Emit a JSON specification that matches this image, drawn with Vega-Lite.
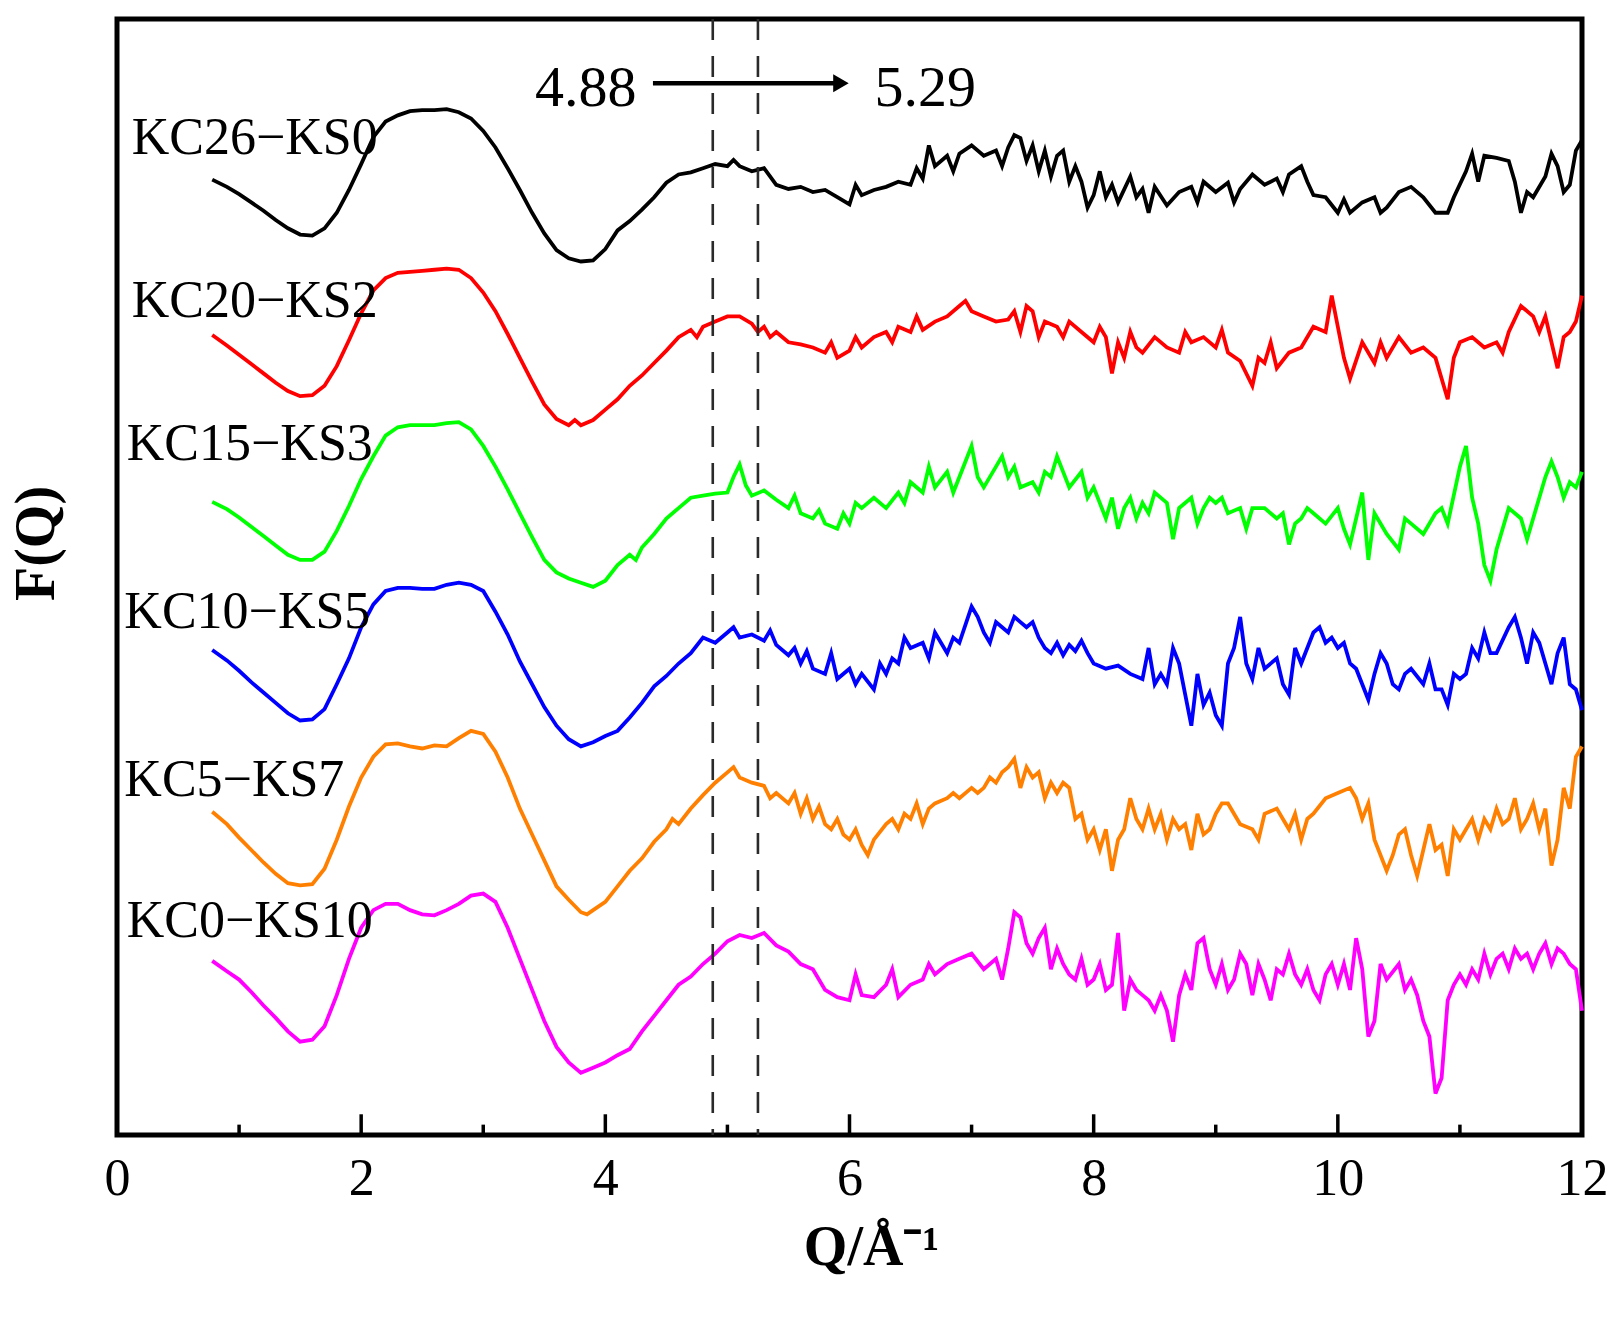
{
"$schema":"https://vega.github.io/schema/vega-lite/v6.json",
"width":1465,"height":1116,
"autosize":{"type":"none"},
"padding":{"left":117,"top":19,"right":41,"bottom":188},
"background":"white",
"config":{"view":{"stroke":"black","strokeWidth":5},"font":"Liberation Serif"},
"datasets":{
"curves":[
{"s":"KC26−KS0","q":0.78,"f":9.27},{"s":"KC26−KS0","q":0.9,"f":9.20},{"s":"KC26−KS0","q":1.0,"f":9.13},{"s":"KC26−KS0","q":1.1,"f":9.05},{"s":"KC26−KS0","q":1.2,"f":8.97},{"s":"KC26−KS0","q":1.3,"f":8.88},{"s":"KC26−KS0","q":1.4,"f":8.80},{"s":"KC26−KS0","q":1.5,"f":8.74},{"s":"KC26−KS0","q":1.6,"f":8.73},{"s":"KC26−KS0","q":1.7,"f":8.80},{"s":"KC26−KS0","q":1.8,"f":8.95},{"s":"KC26−KS0","q":1.9,"f":9.17},{"s":"KC26−KS0","q":2.0,"f":9.42},{"s":"KC26−KS0","q":2.1,"f":9.68},{"s":"KC26−KS0","q":2.2,"f":9.83},{"s":"KC26−KS0","q":2.3,"f":9.89},{"s":"KC26−KS0","q":2.4,"f":9.93},{"s":"KC26−KS0","q":2.5,"f":9.94},{"s":"KC26−KS0","q":2.6,"f":9.94},{"s":"KC26−KS0","q":2.7,"f":9.95},{"s":"KC26−KS0","q":2.8,"f":9.92},{"s":"KC26−KS0","q":2.9,"f":9.86},{"s":"KC26−KS0","q":3.0,"f":9.74},{"s":"KC26−KS0","q":3.1,"f":9.58},{"s":"KC26−KS0","q":3.2,"f":9.38},{"s":"KC26−KS0","q":3.3,"f":9.17},{"s":"KC26−KS0","q":3.4,"f":8.95},{"s":"KC26−KS0","q":3.5,"f":8.75},{"s":"KC26−KS0","q":3.6,"f":8.59},{"s":"KC26−KS0","q":3.7,"f":8.51},{"s":"KC26−KS0","q":3.8,"f":8.48},{"s":"KC26−KS0","q":3.9,"f":8.49},{"s":"KC26−KS0","q":4.0,"f":8.60},{"s":"KC26−KS0","q":4.1,"f":8.78},{"s":"KC26−KS0","q":4.2,"f":8.87},{"s":"KC26−KS0","q":4.3,"f":8.98},{"s":"KC26−KS0","q":4.4,"f":9.10},{"s":"KC26−KS0","q":4.5,"f":9.24},{"s":"KC26−KS0","q":4.6,"f":9.32},{"s":"KC26−KS0","q":4.7,"f":9.34},{"s":"KC26−KS0","q":4.8,"f":9.38},{"s":"KC26−KS0","q":4.9,"f":9.42},{"s":"KC26−KS0","q":5.0,"f":9.40},{"s":"KC26−KS0","q":5.05,"f":9.46},{"s":"KC26−KS0","q":5.1,"f":9.40},{"s":"KC26−KS0","q":5.2,"f":9.35},{"s":"KC26−KS0","q":5.3,"f":9.38},{"s":"KC26−KS0","q":5.4,"f":9.22},{"s":"KC26−KS0","q":5.5,"f":9.18},{"s":"KC26−KS0","q":5.6,"f":9.20},{"s":"KC26−KS0","q":5.7,"f":9.15},{"s":"KC26−KS0","q":5.8,"f":9.17},{"s":"KC26−KS0","q":5.9,"f":9.10},{"s":"KC26−KS0","q":6.0,"f":9.03},{"s":"KC26−KS0","q":6.05,"f":9.22},{"s":"KC26−KS0","q":6.1,"f":9.12},{"s":"KC26−KS0","q":6.2,"f":9.17},{"s":"KC26−KS0","q":6.3,"f":9.20},{"s":"KC26−KS0","q":6.4,"f":9.25},{"s":"KC26−KS0","q":6.5,"f":9.22},{"s":"KC26−KS0","q":6.55,"f":9.38},{"s":"KC26−KS0","q":6.6,"f":9.28},{"s":"KC26−KS0","q":6.65,"f":9.60},{"s":"KC26−KS0","q":6.7,"f":9.40},{"s":"KC26−KS0","q":6.8,"f":9.50},{"s":"KC26−KS0","q":6.85,"f":9.35},{"s":"KC26−KS0","q":6.9,"f":9.52},{"s":"KC26−KS0","q":7.0,"f":9.60},{"s":"KC26−KS0","q":7.1,"f":9.50},{"s":"KC26−KS0","q":7.2,"f":9.55},{"s":"KC26−KS0","q":7.25,"f":9.40},{"s":"KC26−KS0","q":7.3,"f":9.58},{"s":"KC26−KS0","q":7.35,"f":9.70},{"s":"KC26−KS0","q":7.4,"f":9.67},{"s":"KC26−KS0","q":7.45,"f":9.45},{"s":"KC26−KS0","q":7.5,"f":9.60},{"s":"KC26−KS0","q":7.55,"f":9.35},{"s":"KC26−KS0","q":7.6,"f":9.55},{"s":"KC26−KS0","q":7.65,"f":9.30},{"s":"KC26−KS0","q":7.7,"f":9.50},{"s":"KC26−KS0","q":7.75,"f":9.55},{"s":"KC26−KS0","q":7.8,"f":9.25},{"s":"KC26−KS0","q":7.85,"f":9.40},{"s":"KC26−KS0","q":7.9,"f":9.25},{"s":"KC26−KS0","q":7.95,"f":9.00},{"s":"KC26−KS0","q":8.0,"f":9.12},{"s":"KC26−KS0","q":8.05,"f":9.35},{"s":"KC26−KS0","q":8.1,"f":9.10},{"s":"KC26−KS0","q":8.15,"f":9.22},{"s":"KC26−KS0","q":8.2,"f":9.05},{"s":"KC26−KS0","q":8.3,"f":9.30},{"s":"KC26−KS0","q":8.35,"f":9.10},{"s":"KC26−KS0","q":8.4,"f":9.18},{"s":"KC26−KS0","q":8.45,"f":8.95},{"s":"KC26−KS0","q":8.5,"f":9.20},{"s":"KC26−KS0","q":8.6,"f":9.02},{"s":"KC26−KS0","q":8.7,"f":9.15},{"s":"KC26−KS0","q":8.8,"f":9.20},{"s":"KC26−KS0","q":8.85,"f":9.05},{"s":"KC26−KS0","q":8.9,"f":9.25},{"s":"KC26−KS0","q":9.0,"f":9.15},{"s":"KC26−KS0","q":9.1,"f":9.24},{"s":"KC26−KS0","q":9.15,"f":9.05},{"s":"KC26−KS0","q":9.2,"f":9.18},{"s":"KC26−KS0","q":9.3,"f":9.32},{"s":"KC26−KS0","q":9.4,"f":9.22},{"s":"KC26−KS0","q":9.5,"f":9.28},{"s":"KC26−KS0","q":9.55,"f":9.15},{"s":"KC26−KS0","q":9.6,"f":9.32},{"s":"KC26−KS0","q":9.7,"f":9.40},{"s":"KC26−KS0","q":9.75,"f":9.25},{"s":"KC26−KS0","q":9.8,"f":9.12},{"s":"KC26−KS0","q":9.9,"f":9.10},{"s":"KC26−KS0","q":10.0,"f":8.95},{"s":"KC26−KS0","q":10.05,"f":9.08},{"s":"KC26−KS0","q":10.1,"f":8.95},{"s":"KC26−KS0","q":10.2,"f":9.05},{"s":"KC26−KS0","q":10.3,"f":9.10},{"s":"KC26−KS0","q":10.35,"f":8.95},{"s":"KC26−KS0","q":10.4,"f":9.00},{"s":"KC26−KS0","q":10.5,"f":9.15},{"s":"KC26−KS0","q":10.6,"f":9.20},{"s":"KC26−KS0","q":10.7,"f":9.10},{"s":"KC26−KS0","q":10.8,"f":8.95},{"s":"KC26−KS0","q":10.9,"f":8.95},{"s":"KC26−KS0","q":10.95,"f":9.10},{"s":"KC26−KS0","q":11.05,"f":9.35},{"s":"KC26−KS0","q":11.1,"f":9.52},{"s":"KC26−KS0","q":11.15,"f":9.25},{"s":"KC26−KS0","q":11.2,"f":9.50},{"s":"KC26−KS0","q":11.3,"f":9.48},{"s":"KC26−KS0","q":11.4,"f":9.45},{"s":"KC26−KS0","q":11.45,"f":9.25},{"s":"KC26−KS0","q":11.5,"f":8.95},{"s":"KC26−KS0","q":11.55,"f":9.15},{"s":"KC26−KS0","q":11.6,"f":9.10},{"s":"KC26−KS0","q":11.7,"f":9.30},{"s":"KC26−KS0","q":11.75,"f":9.52},{"s":"KC26−KS0","q":11.8,"f":9.40},{"s":"KC26−KS0","q":11.85,"f":9.15},{"s":"KC26−KS0","q":11.9,"f":9.22},{"s":"KC26−KS0","q":11.95,"f":9.55},{"s":"KC26−KS0","q":12.0,"f":9.65},
{"s":"KC20−KS2","q":0.78,"f":7.77},{"s":"KC20−KS2","q":0.9,"f":7.67},{"s":"KC20−KS2","q":1.0,"f":7.58},{"s":"KC20−KS2","q":1.1,"f":7.49},{"s":"KC20−KS2","q":1.2,"f":7.40},{"s":"KC20−KS2","q":1.3,"f":7.31},{"s":"KC20−KS2","q":1.4,"f":7.23},{"s":"KC20−KS2","q":1.5,"f":7.18},{"s":"KC20−KS2","q":1.6,"f":7.19},{"s":"KC20−KS2","q":1.7,"f":7.28},{"s":"KC20−KS2","q":1.8,"f":7.47},{"s":"KC20−KS2","q":1.9,"f":7.72},{"s":"KC20−KS2","q":2.0,"f":7.98},{"s":"KC20−KS2","q":2.1,"f":8.20},{"s":"KC20−KS2","q":2.2,"f":8.32},{"s":"KC20−KS2","q":2.3,"f":8.37},{"s":"KC20−KS2","q":2.4,"f":8.38},{"s":"KC20−KS2","q":2.5,"f":8.39},{"s":"KC20−KS2","q":2.6,"f":8.40},{"s":"KC20−KS2","q":2.7,"f":8.41},{"s":"KC20−KS2","q":2.8,"f":8.40},{"s":"KC20−KS2","q":2.9,"f":8.32},{"s":"KC20−KS2","q":3.0,"f":8.18},{"s":"KC20−KS2","q":3.1,"f":8.00},{"s":"KC20−KS2","q":3.2,"f":7.78},{"s":"KC20−KS2","q":3.3,"f":7.55},{"s":"KC20−KS2","q":3.4,"f":7.32},{"s":"KC20−KS2","q":3.5,"f":7.10},{"s":"KC20−KS2","q":3.6,"f":6.96},{"s":"KC20−KS2","q":3.7,"f":6.90},{"s":"KC20−KS2","q":3.75,"f":6.95},{"s":"KC20−KS2","q":3.8,"f":6.90},{"s":"KC20−KS2","q":3.9,"f":6.95},{"s":"KC20−KS2","q":4.0,"f":7.05},{"s":"KC20−KS2","q":4.1,"f":7.15},{"s":"KC20−KS2","q":4.2,"f":7.28},{"s":"KC20−KS2","q":4.3,"f":7.38},{"s":"KC20−KS2","q":4.4,"f":7.50},{"s":"KC20−KS2","q":4.5,"f":7.62},{"s":"KC20−KS2","q":4.6,"f":7.75},{"s":"KC20−KS2","q":4.7,"f":7.82},{"s":"KC20−KS2","q":4.75,"f":7.75},{"s":"KC20−KS2","q":4.8,"f":7.85},{"s":"KC20−KS2","q":4.9,"f":7.90},{"s":"KC20−KS2","q":5.0,"f":7.95},{"s":"KC20−KS2","q":5.1,"f":7.95},{"s":"KC20−KS2","q":5.2,"f":7.88},{"s":"KC20−KS2","q":5.25,"f":7.80},{"s":"KC20−KS2","q":5.3,"f":7.85},{"s":"KC20−KS2","q":5.35,"f":7.75},{"s":"KC20−KS2","q":5.4,"f":7.80},{"s":"KC20−KS2","q":5.5,"f":7.70},{"s":"KC20−KS2","q":5.6,"f":7.68},{"s":"KC20−KS2","q":5.7,"f":7.65},{"s":"KC20−KS2","q":5.8,"f":7.60},{"s":"KC20−KS2","q":5.85,"f":7.70},{"s":"KC20−KS2","q":5.9,"f":7.55},{"s":"KC20−KS2","q":6.0,"f":7.62},{"s":"KC20−KS2","q":6.05,"f":7.75},{"s":"KC20−KS2","q":6.1,"f":7.65},{"s":"KC20−KS2","q":6.2,"f":7.75},{"s":"KC20−KS2","q":6.3,"f":7.80},{"s":"KC20−KS2","q":6.35,"f":7.70},{"s":"KC20−KS2","q":6.4,"f":7.85},{"s":"KC20−KS2","q":6.5,"f":7.80},{"s":"KC20−KS2","q":6.55,"f":7.95},{"s":"KC20−KS2","q":6.6,"f":7.82},{"s":"KC20−KS2","q":6.7,"f":7.90},{"s":"KC20−KS2","q":6.8,"f":7.95},{"s":"KC20−KS2","q":6.9,"f":8.05},{"s":"KC20−KS2","q":6.95,"f":8.10},{"s":"KC20−KS2","q":7.0,"f":8.00},{"s":"KC20−KS2","q":7.1,"f":7.95},{"s":"KC20−KS2","q":7.2,"f":7.90},{"s":"KC20−KS2","q":7.3,"f":7.92},{"s":"KC20−KS2","q":7.35,"f":8.00},{"s":"KC20−KS2","q":7.4,"f":7.80},{"s":"KC20−KS2","q":7.45,"f":8.05},{"s":"KC20−KS2","q":7.5,"f":8.00},{"s":"KC20−KS2","q":7.55,"f":7.75},{"s":"KC20−KS2","q":7.6,"f":7.90},{"s":"KC20−KS2","q":7.7,"f":7.85},{"s":"KC20−KS2","q":7.75,"f":7.75},{"s":"KC20−KS2","q":7.8,"f":7.90},{"s":"KC20−KS2","q":7.9,"f":7.80},{"s":"KC20−KS2","q":8.0,"f":7.70},{"s":"KC20−KS2","q":8.05,"f":7.85},{"s":"KC20−KS2","q":8.1,"f":7.75},{"s":"KC20−KS2","q":8.15,"f":7.40},{"s":"KC20−KS2","q":8.2,"f":7.70},{"s":"KC20−KS2","q":8.25,"f":7.55},{"s":"KC20−KS2","q":8.3,"f":7.80},{"s":"KC20−KS2","q":8.35,"f":7.65},{"s":"KC20−KS2","q":8.4,"f":7.60},{"s":"KC20−KS2","q":8.5,"f":7.75},{"s":"KC20−KS2","q":8.6,"f":7.65},{"s":"KC20−KS2","q":8.7,"f":7.60},{"s":"KC20−KS2","q":8.75,"f":7.80},{"s":"KC20−KS2","q":8.8,"f":7.70},{"s":"KC20−KS2","q":8.9,"f":7.75},{"s":"KC20−KS2","q":9.0,"f":7.65},{"s":"KC20−KS2","q":9.05,"f":7.82},{"s":"KC20−KS2","q":9.1,"f":7.60},{"s":"KC20−KS2","q":9.2,"f":7.52},{"s":"KC20−KS2","q":9.3,"f":7.28},{"s":"KC20−KS2","q":9.35,"f":7.55},{"s":"KC20−KS2","q":9.4,"f":7.50},{"s":"KC20−KS2","q":9.45,"f":7.70},{"s":"KC20−KS2","q":9.5,"f":7.45},{"s":"KC20−KS2","q":9.6,"f":7.60},{"s":"KC20−KS2","q":9.7,"f":7.65},{"s":"KC20−KS2","q":9.8,"f":7.85},{"s":"KC20−KS2","q":9.9,"f":7.80},{"s":"KC20−KS2","q":9.95,"f":8.15},{"s":"KC20−KS2","q":10.0,"f":7.85},{"s":"KC20−KS2","q":10.05,"f":7.55},{"s":"KC20−KS2","q":10.1,"f":7.35},{"s":"KC20−KS2","q":10.2,"f":7.70},{"s":"KC20−KS2","q":10.3,"f":7.50},{"s":"KC20−KS2","q":10.35,"f":7.70},{"s":"KC20−KS2","q":10.4,"f":7.55},{"s":"KC20−KS2","q":10.5,"f":7.75},{"s":"KC20−KS2","q":10.6,"f":7.60},{"s":"KC20−KS2","q":10.7,"f":7.65},{"s":"KC20−KS2","q":10.8,"f":7.55},{"s":"KC20−KS2","q":10.9,"f":7.15},{"s":"KC20−KS2","q":10.95,"f":7.55},{"s":"KC20−KS2","q":11.0,"f":7.70},{"s":"KC20−KS2","q":11.1,"f":7.75},{"s":"KC20−KS2","q":11.2,"f":7.65},{"s":"KC20−KS2","q":11.3,"f":7.70},{"s":"KC20−KS2","q":11.35,"f":7.60},{"s":"KC20−KS2","q":11.4,"f":7.80},{"s":"KC20−KS2","q":11.5,"f":8.05},{"s":"KC20−KS2","q":11.6,"f":7.95},{"s":"KC20−KS2","q":11.65,"f":7.80},{"s":"KC20−KS2","q":11.7,"f":7.95},{"s":"KC20−KS2","q":11.75,"f":7.70},{"s":"KC20−KS2","q":11.8,"f":7.45},{"s":"KC20−KS2","q":11.85,"f":7.75},{"s":"KC20−KS2","q":11.9,"f":7.80},{"s":"KC20−KS2","q":11.95,"f":7.90},{"s":"KC20−KS2","q":12.0,"f":8.15},
{"s":"KC15−KS3","q":0.78,"f":6.16},{"s":"KC15−KS3","q":0.9,"f":6.09},{"s":"KC15−KS3","q":1.0,"f":6.01},{"s":"KC15−KS3","q":1.1,"f":5.92},{"s":"KC15−KS3","q":1.2,"f":5.83},{"s":"KC15−KS3","q":1.3,"f":5.74},{"s":"KC15−KS3","q":1.4,"f":5.65},{"s":"KC15−KS3","q":1.5,"f":5.60},{"s":"KC15−KS3","q":1.6,"f":5.60},{"s":"KC15−KS3","q":1.7,"f":5.68},{"s":"KC15−KS3","q":1.8,"f":5.88},{"s":"KC15−KS3","q":1.9,"f":6.12},{"s":"KC15−KS3","q":2.0,"f":6.38},{"s":"KC15−KS3","q":2.1,"f":6.60},{"s":"KC15−KS3","q":2.2,"f":6.80},{"s":"KC15−KS3","q":2.3,"f":6.88},{"s":"KC15−KS3","q":2.4,"f":6.90},{"s":"KC15−KS3","q":2.5,"f":6.90},{"s":"KC15−KS3","q":2.6,"f":6.90},{"s":"KC15−KS3","q":2.7,"f":6.92},{"s":"KC15−KS3","q":2.8,"f":6.93},{"s":"KC15−KS3","q":2.9,"f":6.86},{"s":"KC15−KS3","q":3.0,"f":6.70},{"s":"KC15−KS3","q":3.1,"f":6.50},{"s":"KC15−KS3","q":3.2,"f":6.28},{"s":"KC15−KS3","q":3.3,"f":6.05},{"s":"KC15−KS3","q":3.4,"f":5.82},{"s":"KC15−KS3","q":3.5,"f":5.60},{"s":"KC15−KS3","q":3.6,"f":5.48},{"s":"KC15−KS3","q":3.7,"f":5.42},{"s":"KC15−KS3","q":3.8,"f":5.38},{"s":"KC15−KS3","q":3.9,"f":5.34},{"s":"KC15−KS3","q":4.0,"f":5.40},{"s":"KC15−KS3","q":4.1,"f":5.55},{"s":"KC15−KS3","q":4.2,"f":5.65},{"s":"KC15−KS3","q":4.25,"f":5.60},{"s":"KC15−KS3","q":4.3,"f":5.72},{"s":"KC15−KS3","q":4.4,"f":5.85},{"s":"KC15−KS3","q":4.5,"f":6.00},{"s":"KC15−KS3","q":4.6,"f":6.10},{"s":"KC15−KS3","q":4.7,"f":6.20},{"s":"KC15−KS3","q":4.8,"f":6.22},{"s":"KC15−KS3","q":4.9,"f":6.24},{"s":"KC15−KS3","q":5.0,"f":6.25},{"s":"KC15−KS3","q":5.05,"f":6.40},{"s":"KC15−KS3","q":5.1,"f":6.52},{"s":"KC15−KS3","q":5.15,"f":6.32},{"s":"KC15−KS3","q":5.2,"f":6.22},{"s":"KC15−KS3","q":5.3,"f":6.27},{"s":"KC15−KS3","q":5.4,"f":6.18},{"s":"KC15−KS3","q":5.5,"f":6.10},{"s":"KC15−KS3","q":5.55,"f":6.22},{"s":"KC15−KS3","q":5.6,"f":6.05},{"s":"KC15−KS3","q":5.7,"f":6.00},{"s":"KC15−KS3","q":5.75,"f":6.08},{"s":"KC15−KS3","q":5.8,"f":5.95},{"s":"KC15−KS3","q":5.9,"f":5.90},{"s":"KC15−KS3","q":5.95,"f":6.05},{"s":"KC15−KS3","q":6.0,"f":5.95},{"s":"KC15−KS3","q":6.05,"f":6.15},{"s":"KC15−KS3","q":6.1,"f":6.10},{"s":"KC15−KS3","q":6.2,"f":6.20},{"s":"KC15−KS3","q":6.3,"f":6.10},{"s":"KC15−KS3","q":6.4,"f":6.25},{"s":"KC15−KS3","q":6.45,"f":6.15},{"s":"KC15−KS3","q":6.5,"f":6.35},{"s":"KC15−KS3","q":6.6,"f":6.25},{"s":"KC15−KS3","q":6.65,"f":6.50},{"s":"KC15−KS3","q":6.7,"f":6.30},{"s":"KC15−KS3","q":6.8,"f":6.45},{"s":"KC15−KS3","q":6.85,"f":6.25},{"s":"KC15−KS3","q":6.95,"f":6.55},{"s":"KC15−KS3","q":7.0,"f":6.70},{"s":"KC15−KS3","q":7.05,"f":6.40},{"s":"KC15−KS3","q":7.1,"f":6.30},{"s":"KC15−KS3","q":7.2,"f":6.50},{"s":"KC15−KS3","q":7.25,"f":6.60},{"s":"KC15−KS3","q":7.3,"f":6.40},{"s":"KC15−KS3","q":7.35,"f":6.50},{"s":"KC15−KS3","q":7.4,"f":6.30},{"s":"KC15−KS3","q":7.5,"f":6.35},{"s":"KC15−KS3","q":7.55,"f":6.25},{"s":"KC15−KS3","q":7.6,"f":6.45},{"s":"KC15−KS3","q":7.65,"f":6.40},{"s":"KC15−KS3","q":7.7,"f":6.60},{"s":"KC15−KS3","q":7.75,"f":6.45},{"s":"KC15−KS3","q":7.8,"f":6.30},{"s":"KC15−KS3","q":7.9,"f":6.45},{"s":"KC15−KS3","q":7.95,"f":6.20},{"s":"KC15−KS3","q":8.0,"f":6.30},{"s":"KC15−KS3","q":8.05,"f":6.15},{"s":"KC15−KS3","q":8.1,"f":6.00},{"s":"KC15−KS3","q":8.15,"f":6.20},{"s":"KC15−KS3","q":8.2,"f":5.90},{"s":"KC15−KS3","q":8.25,"f":6.10},{"s":"KC15−KS3","q":8.3,"f":6.20},{"s":"KC15−KS3","q":8.35,"f":6.00},{"s":"KC15−KS3","q":8.4,"f":6.15},{"s":"KC15−KS3","q":8.45,"f":6.05},{"s":"KC15−KS3","q":8.5,"f":6.25},{"s":"KC15−KS3","q":8.6,"f":6.15},{"s":"KC15−KS3","q":8.65,"f":5.80},{"s":"KC15−KS3","q":8.7,"f":6.10},{"s":"KC15−KS3","q":8.8,"f":6.20},{"s":"KC15−KS3","q":8.85,"f":5.95},{"s":"KC15−KS3","q":8.9,"f":6.10},{"s":"KC15−KS3","q":8.95,"f":6.20},{"s":"KC15−KS3","q":9.0,"f":6.15},{"s":"KC15−KS3","q":9.05,"f":6.20},{"s":"KC15−KS3","q":9.1,"f":6.05},{"s":"KC15−KS3","q":9.2,"f":6.10},{"s":"KC15−KS3","q":9.25,"f":5.90},{"s":"KC15−KS3","q":9.3,"f":6.10},{"s":"KC15−KS3","q":9.4,"f":6.10},{"s":"KC15−KS3","q":9.5,"f":6.00},{"s":"KC15−KS3","q":9.55,"f":6.05},{"s":"KC15−KS3","q":9.6,"f":5.75},{"s":"KC15−KS3","q":9.65,"f":5.95},{"s":"KC15−KS3","q":9.7,"f":6.00},{"s":"KC15−KS3","q":9.75,"f":6.10},{"s":"KC15−KS3","q":9.8,"f":6.05},{"s":"KC15−KS3","q":9.9,"f":5.95},{"s":"KC15−KS3","q":10.0,"f":6.10},{"s":"KC15−KS3","q":10.05,"f":5.90},{"s":"KC15−KS3","q":10.1,"f":5.75},{"s":"KC15−KS3","q":10.15,"f":6.00},{"s":"KC15−KS3","q":10.2,"f":6.25},{"s":"KC15−KS3","q":10.25,"f":5.60},{"s":"KC15−KS3","q":10.3,"f":6.05},{"s":"KC15−KS3","q":10.4,"f":5.85},{"s":"KC15−KS3","q":10.5,"f":5.70},{"s":"KC15−KS3","q":10.55,"f":6.00},{"s":"KC15−KS3","q":10.6,"f":5.95},{"s":"KC15−KS3","q":10.7,"f":5.85},{"s":"KC15−KS3","q":10.8,"f":6.05},{"s":"KC15−KS3","q":10.85,"f":6.10},{"s":"KC15−KS3","q":10.9,"f":5.95},{"s":"KC15−KS3","q":11.0,"f":6.50},{"s":"KC15−KS3","q":11.05,"f":6.70},{"s":"KC15−KS3","q":11.1,"f":6.20},{"s":"KC15−KS3","q":11.15,"f":5.95},{"s":"KC15−KS3","q":11.2,"f":5.55},{"s":"KC15−KS3","q":11.25,"f":5.40},{"s":"KC15−KS3","q":11.3,"f":5.70},{"s":"KC15−KS3","q":11.35,"f":5.90},{"s":"KC15−KS3","q":11.4,"f":6.10},{"s":"KC15−KS3","q":11.5,"f":6.00},{"s":"KC15−KS3","q":11.55,"f":5.80},{"s":"KC15−KS3","q":11.6,"f":6.00},{"s":"KC15−KS3","q":11.7,"f":6.40},{"s":"KC15−KS3","q":11.75,"f":6.55},{"s":"KC15−KS3","q":11.8,"f":6.40},{"s":"KC15−KS3","q":11.85,"f":6.20},{"s":"KC15−KS3","q":11.9,"f":6.35},{"s":"KC15−KS3","q":11.95,"f":6.30},{"s":"KC15−KS3","q":12.0,"f":6.45},
{"s":"KC10−KS5","q":0.78,"f":4.73},{"s":"KC10−KS5","q":0.9,"f":4.63},{"s":"KC10−KS5","q":1.0,"f":4.53},{"s":"KC10−KS5","q":1.1,"f":4.42},{"s":"KC10−KS5","q":1.2,"f":4.32},{"s":"KC10−KS5","q":1.3,"f":4.22},{"s":"KC10−KS5","q":1.4,"f":4.12},{"s":"KC10−KS5","q":1.5,"f":4.05},{"s":"KC10−KS5","q":1.6,"f":4.06},{"s":"KC10−KS5","q":1.7,"f":4.16},{"s":"KC10−KS5","q":1.8,"f":4.40},{"s":"KC10−KS5","q":1.9,"f":4.65},{"s":"KC10−KS5","q":2.0,"f":4.95},{"s":"KC10−KS5","q":2.1,"f":5.17},{"s":"KC10−KS5","q":2.2,"f":5.30},{"s":"KC10−KS5","q":2.3,"f":5.33},{"s":"KC10−KS5","q":2.4,"f":5.33},{"s":"KC10−KS5","q":2.5,"f":5.32},{"s":"KC10−KS5","q":2.6,"f":5.32},{"s":"KC10−KS5","q":2.7,"f":5.36},{"s":"KC10−KS5","q":2.8,"f":5.38},{"s":"KC10−KS5","q":2.9,"f":5.36},{"s":"KC10−KS5","q":3.0,"f":5.30},{"s":"KC10−KS5","q":3.1,"f":5.10},{"s":"KC10−KS5","q":3.2,"f":4.88},{"s":"KC10−KS5","q":3.3,"f":4.62},{"s":"KC10−KS5","q":3.4,"f":4.40},{"s":"KC10−KS5","q":3.5,"f":4.18},{"s":"KC10−KS5","q":3.6,"f":4.00},{"s":"KC10−KS5","q":3.7,"f":3.87},{"s":"KC10−KS5","q":3.8,"f":3.80},{"s":"KC10−KS5","q":3.9,"f":3.84},{"s":"KC10−KS5","q":4.0,"f":3.90},{"s":"KC10−KS5","q":4.1,"f":3.95},{"s":"KC10−KS5","q":4.2,"f":4.08},{"s":"KC10−KS5","q":4.3,"f":4.22},{"s":"KC10−KS5","q":4.4,"f":4.38},{"s":"KC10−KS5","q":4.5,"f":4.48},{"s":"KC10−KS5","q":4.6,"f":4.60},{"s":"KC10−KS5","q":4.7,"f":4.70},{"s":"KC10−KS5","q":4.8,"f":4.85},{"s":"KC10−KS5","q":4.9,"f":4.80},{"s":"KC10−KS5","q":5.0,"f":4.90},{"s":"KC10−KS5","q":5.05,"f":4.95},{"s":"KC10−KS5","q":5.1,"f":4.85},{"s":"KC10−KS5","q":5.2,"f":4.88},{"s":"KC10−KS5","q":5.3,"f":4.82},{"s":"KC10−KS5","q":5.35,"f":4.92},{"s":"KC10−KS5","q":5.4,"f":4.78},{"s":"KC10−KS5","q":5.5,"f":4.68},{"s":"KC10−KS5","q":5.55,"f":4.75},{"s":"KC10−KS5","q":5.6,"f":4.60},{"s":"KC10−KS5","q":5.65,"f":4.72},{"s":"KC10−KS5","q":5.7,"f":4.55},{"s":"KC10−KS5","q":5.8,"f":4.50},{"s":"KC10−KS5","q":5.85,"f":4.70},{"s":"KC10−KS5","q":5.9,"f":4.45},{"s":"KC10−KS5","q":6.0,"f":4.55},{"s":"KC10−KS5","q":6.05,"f":4.40},{"s":"KC10−KS5","q":6.1,"f":4.50},{"s":"KC10−KS5","q":6.2,"f":4.35},{"s":"KC10−KS5","q":6.25,"f":4.60},{"s":"KC10−KS5","q":6.3,"f":4.50},{"s":"KC10−KS5","q":6.35,"f":4.65},{"s":"KC10−KS5","q":6.4,"f":4.60},{"s":"KC10−KS5","q":6.45,"f":4.85},{"s":"KC10−KS5","q":6.5,"f":4.75},{"s":"KC10−KS5","q":6.6,"f":4.80},{"s":"KC10−KS5","q":6.65,"f":4.65},{"s":"KC10−KS5","q":6.7,"f":4.90},{"s":"KC10−KS5","q":6.8,"f":4.70},{"s":"KC10−KS5","q":6.85,"f":4.85},{"s":"KC10−KS5","q":6.9,"f":4.80},{"s":"KC10−KS5","q":7.0,"f":5.15},{"s":"KC10−KS5","q":7.05,"f":5.05},{"s":"KC10−KS5","q":7.1,"f":4.90},{"s":"KC10−KS5","q":7.15,"f":4.80},{"s":"KC10−KS5","q":7.2,"f":5.00},{"s":"KC10−KS5","q":7.25,"f":4.95},{"s":"KC10−KS5","q":7.3,"f":4.90},{"s":"KC10−KS5","q":7.35,"f":5.05},{"s":"KC10−KS5","q":7.4,"f":5.00},{"s":"KC10−KS5","q":7.45,"f":4.95},{"s":"KC10−KS5","q":7.5,"f":5.00},{"s":"KC10−KS5","q":7.55,"f":4.85},{"s":"KC10−KS5","q":7.6,"f":4.75},{"s":"KC10−KS5","q":7.65,"f":4.70},{"s":"KC10−KS5","q":7.7,"f":4.80},{"s":"KC10−KS5","q":7.75,"f":4.68},{"s":"KC10−KS5","q":7.8,"f":4.78},{"s":"KC10−KS5","q":7.85,"f":4.72},{"s":"KC10−KS5","q":7.9,"f":4.82},{"s":"KC10−KS5","q":7.95,"f":4.70},{"s":"KC10−KS5","q":8.0,"f":4.60},{"s":"KC10−KS5","q":8.1,"f":4.55},{"s":"KC10−KS5","q":8.2,"f":4.58},{"s":"KC10−KS5","q":8.3,"f":4.50},{"s":"KC10−KS5","q":8.4,"f":4.45},{"s":"KC10−KS5","q":8.45,"f":4.75},{"s":"KC10−KS5","q":8.5,"f":4.40},{"s":"KC10−KS5","q":8.55,"f":4.50},{"s":"KC10−KS5","q":8.6,"f":4.40},{"s":"KC10−KS5","q":8.65,"f":4.75},{"s":"KC10−KS5","q":8.7,"f":4.60},{"s":"KC10−KS5","q":8.75,"f":4.30},{"s":"KC10−KS5","q":8.8,"f":4.00},{"s":"KC10−KS5","q":8.85,"f":4.50},{"s":"KC10−KS5","q":8.9,"f":4.20},{"s":"KC10−KS5","q":8.95,"f":4.32},{"s":"KC10−KS5","q":9.0,"f":4.10},{"s":"KC10−KS5","q":9.05,"f":4.00},{"s":"KC10−KS5","q":9.1,"f":4.60},{"s":"KC10−KS5","q":9.15,"f":4.75},{"s":"KC10−KS5","q":9.2,"f":5.05},{"s":"KC10−KS5","q":9.25,"f":4.60},{"s":"KC10−KS5","q":9.3,"f":4.45},{"s":"KC10−KS5","q":9.35,"f":4.75},{"s":"KC10−KS5","q":9.4,"f":4.55},{"s":"KC10−KS5","q":9.5,"f":4.65},{"s":"KC10−KS5","q":9.55,"f":4.40},{"s":"KC10−KS5","q":9.6,"f":4.30},{"s":"KC10−KS5","q":9.65,"f":4.75},{"s":"KC10−KS5","q":9.7,"f":4.60},{"s":"KC10−KS5","q":9.8,"f":4.90},{"s":"KC10−KS5","q":9.85,"f":4.95},{"s":"KC10−KS5","q":9.9,"f":4.80},{"s":"KC10−KS5","q":9.95,"f":4.85},{"s":"KC10−KS5","q":10.0,"f":4.75},{"s":"KC10−KS5","q":10.05,"f":4.80},{"s":"KC10−KS5","q":10.1,"f":4.60},{"s":"KC10−KS5","q":10.15,"f":4.55},{"s":"KC10−KS5","q":10.2,"f":4.40},{"s":"KC10−KS5","q":10.25,"f":4.25},{"s":"KC10−KS5","q":10.3,"f":4.50},{"s":"KC10−KS5","q":10.35,"f":4.70},{"s":"KC10−KS5","q":10.4,"f":4.60},{"s":"KC10−KS5","q":10.45,"f":4.40},{"s":"KC10−KS5","q":10.5,"f":4.35},{"s":"KC10−KS5","q":10.55,"f":4.50},{"s":"KC10−KS5","q":10.6,"f":4.55},{"s":"KC10−KS5","q":10.7,"f":4.40},{"s":"KC10−KS5","q":10.75,"f":4.60},{"s":"KC10−KS5","q":10.8,"f":4.35},{"s":"KC10−KS5","q":10.85,"f":4.35},{"s":"KC10−KS5","q":10.9,"f":4.20},{"s":"KC10−KS5","q":10.95,"f":4.50},{"s":"KC10−KS5","q":11.0,"f":4.45},{"s":"KC10−KS5","q":11.05,"f":4.50},{"s":"KC10−KS5","q":11.1,"f":4.75},{"s":"KC10−KS5","q":11.15,"f":4.65},{"s":"KC10−KS5","q":11.2,"f":4.90},{"s":"KC10−KS5","q":11.25,"f":4.70},{"s":"KC10−KS5","q":11.3,"f":4.70},{"s":"KC10−KS5","q":11.4,"f":4.95},{"s":"KC10−KS5","q":11.45,"f":5.05},{"s":"KC10−KS5","q":11.5,"f":4.85},{"s":"KC10−KS5","q":11.55,"f":4.60},{"s":"KC10−KS5","q":11.6,"f":4.90},{"s":"KC10−KS5","q":11.65,"f":4.80},{"s":"KC10−KS5","q":11.7,"f":4.60},{"s":"KC10−KS5","q":11.75,"f":4.40},{"s":"KC10−KS5","q":11.8,"f":4.70},{"s":"KC10−KS5","q":11.85,"f":4.85},{"s":"KC10−KS5","q":11.9,"f":4.40},{"s":"KC10−KS5","q":11.95,"f":4.35},{"s":"KC10−KS5","q":12.0,"f":4.15},
{"s":"KC5−KS7","q":0.78,"f":3.17},{"s":"KC5−KS7","q":0.9,"f":3.05},{"s":"KC5−KS7","q":1.0,"f":2.92},{"s":"KC5−KS7","q":1.1,"f":2.80},{"s":"KC5−KS7","q":1.2,"f":2.68},{"s":"KC5−KS7","q":1.3,"f":2.57},{"s":"KC5−KS7","q":1.4,"f":2.48},{"s":"KC5−KS7","q":1.5,"f":2.46},{"s":"KC5−KS7","q":1.6,"f":2.47},{"s":"KC5−KS7","q":1.7,"f":2.62},{"s":"KC5−KS7","q":1.8,"f":2.90},{"s":"KC5−KS7","q":1.9,"f":3.22},{"s":"KC5−KS7","q":2.0,"f":3.50},{"s":"KC5−KS7","q":2.1,"f":3.70},{"s":"KC5−KS7","q":2.2,"f":3.82},{"s":"KC5−KS7","q":2.3,"f":3.83},{"s":"KC5−KS7","q":2.4,"f":3.80},{"s":"KC5−KS7","q":2.5,"f":3.78},{"s":"KC5−KS7","q":2.6,"f":3.81},{"s":"KC5−KS7","q":2.7,"f":3.80},{"s":"KC5−KS7","q":2.8,"f":3.88},{"s":"KC5−KS7","q":2.9,"f":3.95},{"s":"KC5−KS7","q":3.0,"f":3.92},{"s":"KC5−KS7","q":3.1,"f":3.75},{"s":"KC5−KS7","q":3.2,"f":3.50},{"s":"KC5−KS7","q":3.3,"f":3.20},{"s":"KC5−KS7","q":3.4,"f":2.95},{"s":"KC5−KS7","q":3.5,"f":2.70},{"s":"KC5−KS7","q":3.6,"f":2.45},{"s":"KC5−KS7","q":3.7,"f":2.32},{"s":"KC5−KS7","q":3.8,"f":2.20},{"s":"KC5−KS7","q":3.85,"f":2.18},{"s":"KC5−KS7","q":3.9,"f":2.22},{"s":"KC5−KS7","q":4.0,"f":2.30},{"s":"KC5−KS7","q":4.1,"f":2.45},{"s":"KC5−KS7","q":4.2,"f":2.60},{"s":"KC5−KS7","q":4.3,"f":2.72},{"s":"KC5−KS7","q":4.4,"f":2.88},{"s":"KC5−KS7","q":4.5,"f":3.00},{"s":"KC5−KS7","q":4.55,"f":3.10},{"s":"KC5−KS7","q":4.6,"f":3.05},{"s":"KC5−KS7","q":4.7,"f":3.20},{"s":"KC5−KS7","q":4.8,"f":3.33},{"s":"KC5−KS7","q":4.9,"f":3.45},{"s":"KC5−KS7","q":5.0,"f":3.55},{"s":"KC5−KS7","q":5.05,"f":3.60},{"s":"KC5−KS7","q":5.1,"f":3.50},{"s":"KC5−KS7","q":5.2,"f":3.45},{"s":"KC5−KS7","q":5.3,"f":3.42},{"s":"KC5−KS7","q":5.35,"f":3.30},{"s":"KC5−KS7","q":5.4,"f":3.35},{"s":"KC5−KS7","q":5.5,"f":3.25},{"s":"KC5−KS7","q":5.55,"f":3.35},{"s":"KC5−KS7","q":5.6,"f":3.15},{"s":"KC5−KS7","q":5.65,"f":3.30},{"s":"KC5−KS7","q":5.7,"f":3.10},{"s":"KC5−KS7","q":5.75,"f":3.22},{"s":"KC5−KS7","q":5.8,"f":3.05},{"s":"KC5−KS7","q":5.85,"f":3.00},{"s":"KC5−KS7","q":5.9,"f":3.10},{"s":"KC5−KS7","q":5.95,"f":2.95},{"s":"KC5−KS7","q":6.0,"f":2.90},{"s":"KC5−KS7","q":6.05,"f":3.00},{"s":"KC5−KS7","q":6.1,"f":2.85},{"s":"KC5−KS7","q":6.15,"f":2.75},{"s":"KC5−KS7","q":6.2,"f":2.90},{"s":"KC5−KS7","q":6.3,"f":3.05},{"s":"KC5−KS7","q":6.35,"f":3.10},{"s":"KC5−KS7","q":6.4,"f":3.00},{"s":"KC5−KS7","q":6.45,"f":3.15},{"s":"KC5−KS7","q":6.5,"f":3.10},{"s":"KC5−KS7","q":6.55,"f":3.25},{"s":"KC5−KS7","q":6.6,"f":3.05},{"s":"KC5−KS7","q":6.65,"f":3.20},{"s":"KC5−KS7","q":6.7,"f":3.25},{"s":"KC5−KS7","q":6.8,"f":3.30},{"s":"KC5−KS7","q":6.85,"f":3.35},{"s":"KC5−KS7","q":6.9,"f":3.30},{"s":"KC5−KS7","q":7.0,"f":3.40},{"s":"KC5−KS7","q":7.05,"f":3.35},{"s":"KC5−KS7","q":7.1,"f":3.40},{"s":"KC5−KS7","q":7.15,"f":3.50},{"s":"KC5−KS7","q":7.2,"f":3.45},{"s":"KC5−KS7","q":7.25,"f":3.55},{"s":"KC5−KS7","q":7.3,"f":3.60},{"s":"KC5−KS7","q":7.35,"f":3.68},{"s":"KC5−KS7","q":7.4,"f":3.40},{"s":"KC5−KS7","q":7.45,"f":3.60},{"s":"KC5−KS7","q":7.5,"f":3.50},{"s":"KC5−KS7","q":7.55,"f":3.55},{"s":"KC5−KS7","q":7.6,"f":3.30},{"s":"KC5−KS7","q":7.65,"f":3.45},{"s":"KC5−KS7","q":7.7,"f":3.35},{"s":"KC5−KS7","q":7.75,"f":3.45},{"s":"KC5−KS7","q":7.8,"f":3.40},{"s":"KC5−KS7","q":7.85,"f":3.10},{"s":"KC5−KS7","q":7.9,"f":3.15},{"s":"KC5−KS7","q":7.95,"f":2.90},{"s":"KC5−KS7","q":8.0,"f":3.00},{"s":"KC5−KS7","q":8.05,"f":2.80},{"s":"KC5−KS7","q":8.1,"f":3.00},{"s":"KC5−KS7","q":8.15,"f":2.60},{"s":"KC5−KS7","q":8.2,"f":2.90},{"s":"KC5−KS7","q":8.25,"f":3.00},{"s":"KC5−KS7","q":8.3,"f":3.30},{"s":"KC5−KS7","q":8.35,"f":3.10},{"s":"KC5−KS7","q":8.4,"f":3.00},{"s":"KC5−KS7","q":8.45,"f":3.20},{"s":"KC5−KS7","q":8.5,"f":3.00},{"s":"KC5−KS7","q":8.55,"f":3.15},{"s":"KC5−KS7","q":8.6,"f":2.90},{"s":"KC5−KS7","q":8.65,"f":3.10},{"s":"KC5−KS7","q":8.7,"f":3.00},{"s":"KC5−KS7","q":8.75,"f":3.05},{"s":"KC5−KS7","q":8.8,"f":2.80},{"s":"KC5−KS7","q":8.85,"f":3.15},{"s":"KC5−KS7","q":8.9,"f":2.95},{"s":"KC5−KS7","q":8.95,"f":3.00},{"s":"KC5−KS7","q":9.0,"f":3.15},{"s":"KC5−KS7","q":9.05,"f":3.25},{"s":"KC5−KS7","q":9.1,"f":3.25},{"s":"KC5−KS7","q":9.2,"f":3.05},{"s":"KC5−KS7","q":9.3,"f":3.00},{"s":"KC5−KS7","q":9.35,"f":2.90},{"s":"KC5−KS7","q":9.4,"f":3.15},{"s":"KC5−KS7","q":9.5,"f":3.20},{"s":"KC5−KS7","q":9.55,"f":3.10},{"s":"KC5−KS7","q":9.6,"f":3.00},{"s":"KC5−KS7","q":9.65,"f":3.15},{"s":"KC5−KS7","q":9.7,"f":2.90},{"s":"KC5−KS7","q":9.75,"f":3.10},{"s":"KC5−KS7","q":9.8,"f":3.15},{"s":"KC5−KS7","q":9.9,"f":3.30},{"s":"KC5−KS7","q":10.0,"f":3.35},{"s":"KC5−KS7","q":10.1,"f":3.40},{"s":"KC5−KS7","q":10.15,"f":3.30},{"s":"KC5−KS7","q":10.2,"f":3.10},{"s":"KC5−KS7","q":10.25,"f":3.25},{"s":"KC5−KS7","q":10.3,"f":2.90},{"s":"KC5−KS7","q":10.4,"f":2.60},{"s":"KC5−KS7","q":10.45,"f":2.75},{"s":"KC5−KS7","q":10.5,"f":2.95},{"s":"KC5−KS7","q":10.55,"f":3.00},{"s":"KC5−KS7","q":10.6,"f":2.75},{"s":"KC5−KS7","q":10.65,"f":2.55},{"s":"KC5−KS7","q":10.7,"f":2.80},{"s":"KC5−KS7","q":10.75,"f":3.05},{"s":"KC5−KS7","q":10.8,"f":2.80},{"s":"KC5−KS7","q":10.85,"f":2.85},{"s":"KC5−KS7","q":10.9,"f":2.55},{"s":"KC5−KS7","q":10.95,"f":3.00},{"s":"KC5−KS7","q":11.0,"f":2.90},{"s":"KC5−KS7","q":11.05,"f":3.00},{"s":"KC5−KS7","q":11.1,"f":3.10},{"s":"KC5−KS7","q":11.15,"f":2.90},{"s":"KC5−KS7","q":11.2,"f":3.10},{"s":"KC5−KS7","q":11.25,"f":3.00},{"s":"KC5−KS7","q":11.3,"f":3.20},{"s":"KC5−KS7","q":11.35,"f":3.05},{"s":"KC5−KS7","q":11.4,"f":3.10},{"s":"KC5−KS7","q":11.45,"f":3.30},{"s":"KC5−KS7","q":11.5,"f":3.00},{"s":"KC5−KS7","q":11.55,"f":3.10},{"s":"KC5−KS7","q":11.6,"f":3.25},{"s":"KC5−KS7","q":11.65,"f":3.00},{"s":"KC5−KS7","q":11.7,"f":3.20},{"s":"KC5−KS7","q":11.75,"f":2.65},{"s":"KC5−KS7","q":11.8,"f":2.90},{"s":"KC5−KS7","q":11.85,"f":3.40},{"s":"KC5−KS7","q":11.9,"f":3.20},{"s":"KC5−KS7","q":11.95,"f":3.70},{"s":"KC5−KS7","q":12.0,"f":3.80},
{"s":"KC0−KS10","q":0.78,"f":1.73},{"s":"KC0−KS10","q":0.9,"f":1.63},{"s":"KC0−KS10","q":1.0,"f":1.55},{"s":"KC0−KS10","q":1.1,"f":1.43},{"s":"KC0−KS10","q":1.2,"f":1.30},{"s":"KC0−KS10","q":1.3,"f":1.18},{"s":"KC0−KS10","q":1.4,"f":1.05},{"s":"KC0−KS10","q":1.5,"f":0.95},{"s":"KC0−KS10","q":1.6,"f":0.97},{"s":"KC0−KS10","q":1.7,"f":1.10},{"s":"KC0−KS10","q":1.8,"f":1.40},{"s":"KC0−KS10","q":1.9,"f":1.75},{"s":"KC0−KS10","q":2.0,"f":2.05},{"s":"KC0−KS10","q":2.1,"f":2.22},{"s":"KC0−KS10","q":2.2,"f":2.28},{"s":"KC0−KS10","q":2.3,"f":2.28},{"s":"KC0−KS10","q":2.4,"f":2.22},{"s":"KC0−KS10","q":2.5,"f":2.18},{"s":"KC0−KS10","q":2.6,"f":2.17},{"s":"KC0−KS10","q":2.7,"f":2.22},{"s":"KC0−KS10","q":2.8,"f":2.28},{"s":"KC0−KS10","q":2.9,"f":2.36},{"s":"KC0−KS10","q":3.0,"f":2.38},{"s":"KC0−KS10","q":3.1,"f":2.30},{"s":"KC0−KS10","q":3.2,"f":2.05},{"s":"KC0−KS10","q":3.3,"f":1.75},{"s":"KC0−KS10","q":3.4,"f":1.45},{"s":"KC0−KS10","q":3.5,"f":1.15},{"s":"KC0−KS10","q":3.6,"f":0.90},{"s":"KC0−KS10","q":3.7,"f":0.75},{"s":"KC0−KS10","q":3.8,"f":0.65},{"s":"KC0−KS10","q":3.9,"f":0.70},{"s":"KC0−KS10","q":4.0,"f":0.75},{"s":"KC0−KS10","q":4.1,"f":0.82},{"s":"KC0−KS10","q":4.2,"f":0.88},{"s":"KC0−KS10","q":4.3,"f":1.05},{"s":"KC0−KS10","q":4.4,"f":1.20},{"s":"KC0−KS10","q":4.5,"f":1.35},{"s":"KC0−KS10","q":4.6,"f":1.50},{"s":"KC0−KS10","q":4.7,"f":1.58},{"s":"KC0−KS10","q":4.8,"f":1.70},{"s":"KC0−KS10","q":4.9,"f":1.80},{"s":"KC0−KS10","q":5.0,"f":1.92},{"s":"KC0−KS10","q":5.1,"f":1.98},{"s":"KC0−KS10","q":5.2,"f":1.95},{"s":"KC0−KS10","q":5.3,"f":2.00},{"s":"KC0−KS10","q":5.4,"f":1.88},{"s":"KC0−KS10","q":5.5,"f":1.82},{"s":"KC0−KS10","q":5.6,"f":1.70},{"s":"KC0−KS10","q":5.7,"f":1.65},{"s":"KC0−KS10","q":5.8,"f":1.45},{"s":"KC0−KS10","q":5.9,"f":1.38},{"s":"KC0−KS10","q":6.0,"f":1.35},{"s":"KC0−KS10","q":6.05,"f":1.60},{"s":"KC0−KS10","q":6.1,"f":1.40},{"s":"KC0−KS10","q":6.2,"f":1.38},{"s":"KC0−KS10","q":6.3,"f":1.50},{"s":"KC0−KS10","q":6.35,"f":1.65},{"s":"KC0−KS10","q":6.4,"f":1.38},{"s":"KC0−KS10","q":6.5,"f":1.50},{"s":"KC0−KS10","q":6.6,"f":1.55},{"s":"KC0−KS10","q":6.65,"f":1.70},{"s":"KC0−KS10","q":6.7,"f":1.60},{"s":"KC0−KS10","q":6.8,"f":1.70},{"s":"KC0−KS10","q":6.9,"f":1.75},{"s":"KC0−KS10","q":7.0,"f":1.80},{"s":"KC0−KS10","q":7.1,"f":1.65},{"s":"KC0−KS10","q":7.2,"f":1.75},{"s":"KC0−KS10","q":7.25,"f":1.55},{"s":"KC0−KS10","q":7.3,"f":1.85},{"s":"KC0−KS10","q":7.35,"f":2.20},{"s":"KC0−KS10","q":7.4,"f":2.15},{"s":"KC0−KS10","q":7.45,"f":1.90},{"s":"KC0−KS10","q":7.5,"f":1.80},{"s":"KC0−KS10","q":7.55,"f":1.95},{"s":"KC0−KS10","q":7.6,"f":2.05},{"s":"KC0−KS10","q":7.65,"f":1.65},{"s":"KC0−KS10","q":7.7,"f":1.85},{"s":"KC0−KS10","q":7.75,"f":1.70},{"s":"KC0−KS10","q":7.8,"f":1.60},{"s":"KC0−KS10","q":7.85,"f":1.55},{"s":"KC0−KS10","q":7.9,"f":1.75},{"s":"KC0−KS10","q":7.95,"f":1.50},{"s":"KC0−KS10","q":8.0,"f":1.55},{"s":"KC0−KS10","q":8.05,"f":1.70},{"s":"KC0−KS10","q":8.1,"f":1.45},{"s":"KC0−KS10","q":8.15,"f":1.50},{"s":"KC0−KS10","q":8.2,"f":2.00},{"s":"KC0−KS10","q":8.25,"f":1.25},{"s":"KC0−KS10","q":8.3,"f":1.55},{"s":"KC0−KS10","q":8.35,"f":1.45},{"s":"KC0−KS10","q":8.4,"f":1.40},{"s":"KC0−KS10","q":8.45,"f":1.35},{"s":"KC0−KS10","q":8.5,"f":1.25},{"s":"KC0−KS10","q":8.55,"f":1.40},{"s":"KC0−KS10","q":8.6,"f":1.25},{"s":"KC0−KS10","q":8.65,"f":0.95},{"s":"KC0−KS10","q":8.7,"f":1.40},{"s":"KC0−KS10","q":8.75,"f":1.60},{"s":"KC0−KS10","q":8.8,"f":1.45},{"s":"KC0−KS10","q":8.85,"f":1.90},{"s":"KC0−KS10","q":8.9,"f":1.95},{"s":"KC0−KS10","q":8.95,"f":1.65},{"s":"KC0−KS10","q":9.0,"f":1.50},{"s":"KC0−KS10","q":9.05,"f":1.70},{"s":"KC0−KS10","q":9.1,"f":1.45},{"s":"KC0−KS10","q":9.15,"f":1.55},{"s":"KC0−KS10","q":9.2,"f":1.80},{"s":"KC0−KS10","q":9.25,"f":1.70},{"s":"KC0−KS10","q":9.3,"f":1.40},{"s":"KC0−KS10","q":9.35,"f":1.70},{"s":"KC0−KS10","q":9.4,"f":1.55},{"s":"KC0−KS10","q":9.45,"f":1.35},{"s":"KC0−KS10","q":9.5,"f":1.65},{"s":"KC0−KS10","q":9.55,"f":1.60},{"s":"KC0−KS10","q":9.6,"f":1.80},{"s":"KC0−KS10","q":9.65,"f":1.60},{"s":"KC0−KS10","q":9.7,"f":1.50},{"s":"KC0−KS10","q":9.75,"f":1.65},{"s":"KC0−KS10","q":9.8,"f":1.45},{"s":"KC0−KS10","q":9.85,"f":1.35},{"s":"KC0−KS10","q":9.9,"f":1.60},{"s":"KC0−KS10","q":9.95,"f":1.70},{"s":"KC0−KS10","q":10.0,"f":1.50},{"s":"KC0−KS10","q":10.05,"f":1.70},{"s":"KC0−KS10","q":10.1,"f":1.45},{"s":"KC0−KS10","q":10.15,"f":1.95},{"s":"KC0−KS10","q":10.2,"f":1.65},{"s":"KC0−KS10","q":10.25,"f":1.00},{"s":"KC0−KS10","q":10.3,"f":1.15},{"s":"KC0−KS10","q":10.35,"f":1.70},{"s":"KC0−KS10","q":10.4,"f":1.55},{"s":"KC0−KS10","q":10.5,"f":1.70},{"s":"KC0−KS10","q":10.55,"f":1.45},{"s":"KC0−KS10","q":10.6,"f":1.55},{"s":"KC0−KS10","q":10.65,"f":1.40},{"s":"KC0−KS10","q":10.7,"f":1.15},{"s":"KC0−KS10","q":10.75,"f":1.00},{"s":"KC0−KS10","q":10.8,"f":0.45},{"s":"KC0−KS10","q":10.85,"f":0.60},{"s":"KC0−KS10","q":10.9,"f":1.35},{"s":"KC0−KS10","q":10.95,"f":1.50},{"s":"KC0−KS10","q":11.0,"f":1.60},{"s":"KC0−KS10","q":11.05,"f":1.50},{"s":"KC0−KS10","q":11.1,"f":1.65},{"s":"KC0−KS10","q":11.15,"f":1.55},{"s":"KC0−KS10","q":11.2,"f":1.80},{"s":"KC0−KS10","q":11.25,"f":1.60},{"s":"KC0−KS10","q":11.3,"f":1.75},{"s":"KC0−KS10","q":11.35,"f":1.80},{"s":"KC0−KS10","q":11.4,"f":1.65},{"s":"KC0−KS10","q":11.45,"f":1.85},{"s":"KC0−KS10","q":11.5,"f":1.75},{"s":"KC0−KS10","q":11.55,"f":1.80},{"s":"KC0−KS10","q":11.6,"f":1.65},{"s":"KC0−KS10","q":11.65,"f":1.80},{"s":"KC0−KS10","q":11.7,"f":1.90},{"s":"KC0−KS10","q":11.75,"f":1.70},{"s":"KC0−KS10","q":11.8,"f":1.85},{"s":"KC0−KS10","q":11.85,"f":1.80},{"s":"KC0−KS10","q":11.9,"f":1.70},{"s":"KC0−KS10","q":11.95,"f":1.65},{"s":"KC0−KS10","q":12.0,"f":1.25}
],
"labels":[
{"s":"KC26−KS0","q":0.12,"f":9.67},{"s":"KC20−KS2","q":0.12,"f":8.10},{"s":"KC15−KS3","q":0.08,"f":6.72},{"s":"KC10−KS5","q":0.06,"f":5.10},{"s":"KC5−KS7","q":0.06,"f":3.48},{"s":"KC0−KS10","q":0.08,"f":2.12}
],
"ticks":[
{"q":1,"base":0.05,"top":0.15},{"q":2,"base":0.05,"top":0.25},{"q":3,"base":0.05,"top":0.15},{"q":4,"base":0.05,"top":0.25},{"q":5,"base":0.05,"top":0.15},{"q":6,"base":0.05,"top":0.25},{"q":7,"base":0.05,"top":0.15},{"q":8,"base":0.05,"top":0.25},{"q":9,"base":0.05,"top":0.15},{"q":10,"base":0.05,"top":0.25},{"q":11,"base":0.05,"top":0.15}
],
"marks":[{"q":4.88},{"q":5.25}],
"arrow":[{"q0":4.39,"q1":5.93,"f":10.20}],
"notes":[{"t":"4.88","q":3.84,"f":10.14},{"t":"5.29","q":6.62,"f":10.14}]
},
"layer":[
{"data":{"name":"curves"},"mark":{"type":"line","strokeWidth":3.8,"strokeJoin":"miter"},
 "encoding":{
  "x":{"field":"q","type":"quantitative","scale":{"domain":[0,12],"nice":false,"zero":false},
   "axis":{"title":"Q/Å⁻¹","values":[0,2,4,6,8,10,12],"format":"d","ticks":false,"domain":false,"grid":false,"labelFlush":false,"labelOverlap":false,"labelBound":false,"labelFont":"Liberation Serif","labelFontSize":52,"labelColor":"black","labelPadding":18,"titleFont":"Liberation Serif","titleFontSize":56,"titleFontWeight":"bold","titleColor":"black","titlePadding":16,"titleX":754}},
  "y":{"field":"f","type":"quantitative","scale":{"domain":[0.05,10.82],"nice":false,"zero":false},
   "axis":{"title":"F(Q)","ticks":false,"labels":false,"domain":false,"grid":false,"titleFont":"Liberation Serif","titleFontSize":56,"titleFontWeight":"bold","titleColor":"black","titlePadding":52,"titleY":524}},
  "color":{"field":"s","type":"nominal","scale":{"domain":["KC26−KS0","KC20−KS2","KC15−KS3","KC10−KS5","KC5−KS7","KC0−KS10"],"range":["#000000","#ff0000","#00ff00","#0000ff","#ff8000","#ff00ff"]},"legend":null}
 }},
{"data":{"name":"marks"},"mark":{"type":"rule","color":"#2a2a2a","strokeWidth":2.6,"strokeDash":[21,16]},
 "encoding":{"x":{"field":"q","type":"quantitative"}}},
{"data":{"name":"labels"},"mark":{"type":"text","align":"left","baseline":"middle","font":"Liberation Serif","fontSize":52,"color":"black"},
 "encoding":{"x":{"field":"q","type":"quantitative"},"y":{"field":"f","type":"quantitative"},"text":{"field":"s","type":"nominal"}}},
{"data":{"name":"ticks"},"mark":{"type":"rule","color":"black","strokeWidth":3.5},
 "encoding":{"x":{"field":"q","type":"quantitative"},"y":{"field":"base","type":"quantitative"},"y2":{"field":"top"}}},
{"data":{"name":"arrow"},"mark":{"type":"rule","color":"black","strokeWidth":4.5},
 "encoding":{"x":{"field":"q0","type":"quantitative"},"x2":{"field":"q1"},"y":{"field":"f","type":"quantitative"}}},
{"data":{"name":"arrow"},"mark":{"type":"point","shape":"triangle-right","filled":true,"color":"black","size":320,"opacity":1},
 "encoding":{"x":{"field":"q1","type":"quantitative"},"y":{"field":"f","type":"quantitative"}}},
{"data":{"name":"notes"},"mark":{"type":"text","align":"center","baseline":"middle","font":"Liberation Serif","fontSize":58,"color":"black"},
 "encoding":{"x":{"field":"q","type":"quantitative"},"y":{"field":"f","type":"quantitative"},"text":{"field":"t","type":"nominal"}}}
]
}
